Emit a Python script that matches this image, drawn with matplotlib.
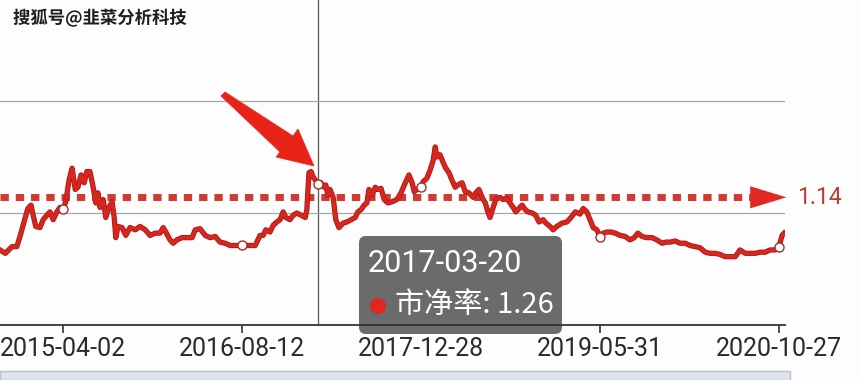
import matplotlib
matplotlib.use('Agg')
import matplotlib.pyplot as plt
import matplotlib.patheffects as pe
from matplotlib.patches import FancyBboxPatch, Circle, Rectangle, Polygon

plt.rcParams['font.family'] = ['Roboto', 'Noto Sans CJK SC', 'DejaVu Sans']

# 交易日序号 与 市净率
day = [0, 10, 23, 32, 38, 48, 53, 59, 63, 68, 76, 82, 89, 95, 101, 108, 114, 120,
       125, 131, 137, 143, 148, 154, 160, 165, 171, 177, 182, 186, 190, 196, 201,
       207, 213, 217, 220, 224, 232, 239, 247, 257, 266, 276, 285, 295, 304, 310,
       315, 323, 329, 336, 346, 355, 365, 371, 380, 390, 399, 409, 418, 428, 437,
       447, 460, 471, 485, 494, 500, 505, 513, 519, 526, 532, 538, 543, 551, 557,
       564, 572, 580, 583, 587, 591, 595, 600, 604, 610, 616, 619, 623, 627, 633,
       638, 644, 652, 659, 667, 675, 680, 686, 692, 697, 701, 707, 713, 718, 724,
       730, 737, 745, 754, 762, 770, 777, 783, 787, 792, 800, 804, 811, 817, 823,
       827, 830, 836, 842, 847, 853, 859, 865, 870, 878, 884, 891, 899, 904, 910,
       916, 922, 927, 931, 937, 942, 950, 956, 963, 969, 975, 980, 986, 992, 998,
       1003, 1011, 1018, 1024, 1032, 1037, 1045, 1051, 1058, 1068, 1077, 1085,
       1093, 1098, 1102, 1108, 1115, 1121, 1127, 1134, 1140, 1146, 1153, 1161,
       1169, 1178, 1188, 1197, 1205, 1212, 1220, 1229, 1239, 1248, 1258, 1265,
       1273, 1283, 1292, 1302, 1311, 1321, 1330, 1340, 1349, 1359, 1368, 1378,
       1387, 1397, 1406, 1416, 1425, 1435, 1444, 1454, 1463, 1473, 1480, 1486, 1490]
pb = [0.67, 0.64, 0.70, 0.70, 0.79, 0.96, 1.04, 1.07, 0.98, 0.88, 0.87, 0.94, 0.98,
      1.01, 0.94, 1.01, 1.05, 1.04, 1.10, 1.29, 1.40, 1.21, 1.23, 1.34, 1.27, 1.37,
      1.37, 1.23, 1.09, 1.18, 1.05, 1.12, 0.96, 1.05, 1.10, 0.96, 0.78, 0.88, 0.87,
      0.80, 0.87, 0.85, 0.88, 0.85, 0.80, 0.82, 0.82, 0.87, 0.83, 0.76, 0.73, 0.76,
      0.78, 0.78, 0.78, 0.85, 0.86, 0.80, 0.78, 0.79, 0.74, 0.73, 0.71, 0.71, 0.71,
      0.71, 0.71, 0.80, 0.80, 0.85, 0.83, 0.89, 0.92, 0.94, 1.01, 0.96, 0.94, 0.98,
      1.00, 0.98, 0.96, 1.03, 1.36, 1.37, 1.32, 1.29, 1.26, 1.27, 1.23, 1.25, 1.16,
      1.21, 1.14, 0.94, 0.87, 0.91, 0.92, 0.94, 0.96, 1.01, 1.03, 1.07, 1.09, 1.21,
      1.16, 1.23, 1.21, 1.22, 1.12, 1.09, 1.10, 1.12, 1.18, 1.27, 1.34, 1.27, 1.19,
      1.21, 1.23, 1.28, 1.31, 1.38, 1.47, 1.59, 1.50, 1.52, 1.45, 1.40, 1.36, 1.29,
      1.23, 1.25, 1.27, 1.19, 1.18, 1.14, 1.18, 1.21, 1.14, 1.09, 1.01, 0.96, 1.05,
      1.12, 1.14, 1.12, 1.13, 1.09, 1.05, 1.01, 1.04, 1.07, 1.03, 1.01, 1.00, 0.98,
      0.92, 0.94, 0.91, 0.88, 0.85, 0.88, 0.91, 0.92, 0.96, 1.01, 1.00, 0.99, 1.04,
      1.01, 0.94, 0.87, 0.85, 0.79, 0.82, 0.83, 0.83, 0.82, 0.80, 0.79, 0.76, 0.78,
      0.82, 0.79, 0.78, 0.78, 0.76, 0.73, 0.74, 0.74, 0.75, 0.73, 0.73, 0.71, 0.70,
      0.69, 0.65, 0.64, 0.64, 0.63, 0.61, 0.61, 0.61, 0.67, 0.64, 0.64, 0.64, 0.65,
      0.65, 0.67, 0.67, 0.70, 0.80, 0.82]

tick_pos = [120, 460, 800, 1140, 1480]
tick_labels = ['2015-04-02', '2016-08-12', '2017-12-28', '2019-05-31', '2020-10-27']
avg_pb = 1.14
hover_day, hover_date, hover_pb = 604, '2017-03-20', 1.26

red = '#d8261f'

fig = plt.figure(figsize=(8.62, 3.80), dpi=100, facecolor='#fdfdfe')
ax = fig.add_axes([0, 55 / 380, 785 / 862, 325 / 380])
ax.set_facecolor('#fdfdfe')
ax.set_xlim(0, 1491.5)
ax.set_ylim(0, 325 / 112)

for s in ['top', 'left', 'right']:
    ax.spines[s].set_visible(False)
ax.spines['bottom'].set_color('#333333')
ax.spines['bottom'].set_linewidth(1.3)

ax.set_yticks([1, 2])
ax.tick_params(axis='y', length=0, labelleft=False)
ax.yaxis.grid(True, color='#a8a8a8', lw=0.9)
ax.set_xticks(tick_pos)
ax.set_xticklabels(tick_labels, fontsize=18, color='#2a2a2a')
ax.tick_params(axis='x', length=6, width=1.2, color='#333333', pad=3)

# 十字准线
ax.axvline(hover_day, color='#555555', lw=0.9, zorder=1)

# 市净率曲线
ax.plot(day, pb, color=red, lw=2.6, zorder=4, solid_joinstyle='round',
        path_effects=[pe.Stroke(linewidth=3.8, foreground='#a81a18'), pe.Normal()])
mk = [i for i, d in enumerate(day) if d in tick_pos or d == hover_day]
ax.plot([day[i] for i in mk], [pb[i] for i in mk], 'o', ms=6.5, mfc='white',
        mec='#b02a25', mew=1.0, zorder=5)

# 平均值虚线 + 箭头
ax.plot([0, 1428], [avg_pb, avg_pb], color='#d03a30', lw=5, dashes=(1.2, 1.0),
        dash_capstyle='butt', zorder=3)
ax.annotate('', xy=(1494, avg_pb), xytext=(1425, avg_pb), zorder=3,
            annotation_clip=False,
            arrowprops=dict(arrowstyle='-|>,head_length=1.3,head_width=0.4',
                            mutation_scale=20, color='#e02a22', lw=0,
                            shrinkA=0, shrinkB=0))
ax.text(1515, avg_pb, '1.14', fontsize=16.5, color='#b83a32', va='center',
        ha='left', clip_on=False)

tr = fig.dpi_scale_trans

# 红色指示箭头（窄尾渐宽）
arrow_px = [(225, 92), (293, 136), (298, 129), (314, 166), (276, 157), (280, 152), (221, 96)]
fig.add_artist(Polygon([(x / 100, (380 - y) / 100) for x, y in arrow_px], closed=True,
                       transform=tr, fc='#ea2319', ec='#ea2319', lw=0.5, zorder=6))

# 提示框
box = FancyBboxPatch((3.59, 0.46), 2.03, 0.98, boxstyle='round,pad=0,rounding_size=0.07',
                     transform=tr, fc='#6b6b6b', ec='none', zorder=2.4, clip_on=False)
ax.add_artist(box)
ax.add_artist(Circle((3.78, 0.74), 0.08, transform=tr, fc='#e3261e', ec='none',
                     zorder=2.6, clip_on=False))
fig.text(3.68, 1.17, hover_date, transform=tr, fontsize=22, color='white',
         va='center', ha='left')
fig.text(3.95, 0.75, '市净率: %.2f' % hover_pb, transform=tr, fontsize=21,
         color='white', va='center', ha='left',
         family=['Noto Sans CJK SC', 'DejaVu Sans'])

# 水印
fig.text(0.13, 3.62, '搜狐号@韭菜分析科技', transform=tr, fontsize=12.5, color='#1e1e1e',
         va='center', ha='left', weight='bold', family=['Noto Sans CJK SC', 'DejaVu Sans'],
         path_effects=[pe.withStroke(linewidth=1.5, foreground='white')])

# 底部滑块条
fig.add_artist(Rectangle((0, 0), 7.9, 0.09, transform=tr, fc='#dfe3ec', ec='#b9bfca', lw=1))

fig.savefig('out.png', dpi=100, facecolor=fig.get_facecolor())
